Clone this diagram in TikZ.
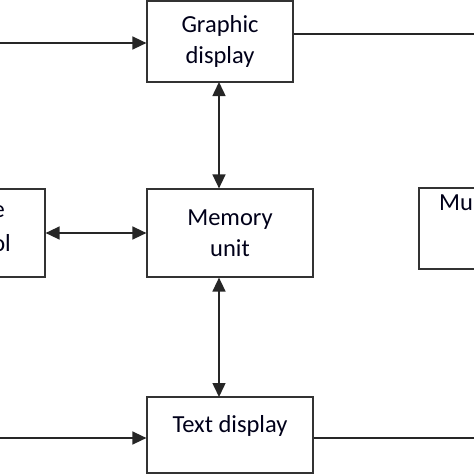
\documentclass[tikz,border=0pt]{standalone}
\usepackage{fontspec}
\setmainfont{Carlito}
\usetikzlibrary{arrows.meta}

\tikzset{
  blockbox/.style={draw=black!80, line width=1.2pt, fill=white, inner sep=0pt,
    align=center, text=black!90!blue, font=\fontsize{24.5}{31}\selectfont},
  cuttext/.style={inner sep=0pt, text=black!90!blue, font=\fontsize{24.5}{31}\selectfont},
  link/.style={line width=1.5pt, black!85},
  tip/.style={-{Triangle[length=14pt,width=13pt]}},
  bitip/.style={{Triangle[length=14pt,width=13pt]}-{Triangle[length=14pt,width=13pt]}}
}

\begin{document}
\begin{tikzpicture}[x=1pt, y=-1pt]
\useasboundingbox (0,0) rectangle (474,474);
\clip (0,0) rectangle (474,474);

% blocks
\node[blockbox, minimum width=146pt, minimum height=81pt] (graphic) at (220,41.5) {Graphic\\display};
\node[blockbox, minimum width=166pt, minimum height=88pt] (memory) at (230,233) {Memory\\unit};
\node[blockbox, minimum width=166pt, minimum height=76pt] (textdisp) at (230,435) {Text display\\[-8pt] \mbox{}};
\node[blockbox, minimum width=145pt, minimum height=88pt] (ctrl) at (-27.5,233) {};
\node[blockbox, minimum width=146pt, minimum height=81pt] (multi) at (492,228.5) {};

% cut-off texts
\node[cuttext, anchor=base east] (ctrla) at (5,217) {e};
\node[cuttext, anchor=base east] (ctrlb) at (11,251) {ol};
\node[cuttext, anchor=base west] (multia) at (439,210) {Mul};

% free ends
\coordinate (ingraphic) at (0,43);
\coordinate (outgraphic) at (474,34);
\coordinate (intext) at (0,438);
\coordinate (outtext) at (474,438);
\coordinate (upper) at (219,82);
\coordinate (lower) at (219,397);

% connectors
\draw[link, tip] (ingraphic) -- (ingraphic -| graphic.west);
\draw[link] (outgraphic -| graphic.east) -- (outgraphic);
\draw[link, tip] (intext) -- (intext -| textdisp.west);
\draw[link] (outtext -| textdisp.east) -- (outtext);
\draw[link, bitip] (upper) -- (upper |- memory.north);
\draw[link, bitip] (upper |- memory.south) -- (lower);
\draw[link, bitip] (ctrl.east) -- (memory.west);
\end{tikzpicture}
\end{document}
